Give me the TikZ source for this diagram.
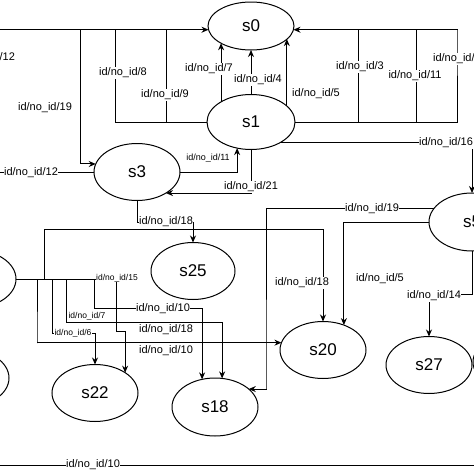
\documentclass[tikz,border=0pt]{standalone}
\usepackage{fontspec}
\setmainfont{Liberation Sans}
\usetikzlibrary{shapes.geometric,arrows.meta}

\begin{document}
\begin{tikzpicture}[x=1pt,y=-1pt,line width=1pt,>={Stealth[length=7pt,width=6pt]},
  state/.style={draw,ellipse,minimum width=86pt,minimum height=57pt,inner sep=0pt,outer sep=0pt,font=\fontsize{17}{20}\selectfont},
  lbl/.style={fill=white,inner sep=0.5pt,font=\fontsize{11}{13}\selectfont},
  txt/.style={inner sep=0.5pt,font=\fontsize{11}{13}\selectfont},
  slbl/.style={fill=white,inner sep=0.5pt,font=\fontsize{8.5}{10}\selectfont}]
  \useasboundingbox (0,0) rectangle (474,474);
  \clip (0,0) rectangle (474,474);

  \node (s0)[state,minimum height=48pt] at (251,26) { s0 };
  \node (s1)[state,minimum width=88pt,minimum height=55pt] at (251,122) { s1 };
  \node (s3)[state] at (137,172) { s3 };
  \node (s25)[state,minimum width=84pt] at (193,271) { s25 };
  \node (s5)[state,minimum height=58pt] at (472,222) { s5 };
  \node (s20)[state] at (323,350) { s20 };
  \node (s27)[state] at (429,365) { s27 };
  \node (s22)[state] at (95,393) { s22 };
  \node (s18)[state,minimum height=58pt] at (215,407) { s18 };
  \node (L1)[state,minimum height=58pt] at (-27,279) {};
  \node (L2)[state,minimum height=58pt] at (-34,378) {};
  \node (R1)[state] at (516,362) {};

  % edges into s0
  \draw[->] (-5,30) |- (s0.185);
  \draw[->] (80,30) |- (s3.169);
  \draw (s1.west) -| (115,30);
  \draw (s1.west) -| (166,30);
  \draw[->] (s1.146) -- (s1.146 |- s0.210);
  \draw[->] (s1.north) -- (s0.south);
  \draw[->] (s1.24) -- (s1.24 |- s0.340);
  \draw (s1.east) -| (358,30);
  \draw (s1.east) -| (416,30);
  \draw[->] (s1.east) -| (457,30) |- (s0.355);

  % s1, s3, s25
  \draw[->] (s1.324) -| (s5.north);
  \draw[->] (s3.east) -| (s1.242);
  \draw[->] (s1.south) |- (s3.324);
  \draw (-5,172) -- (s3.west);
  \draw[->] (s3.south) -- (137,222) -| (s25.north);

  % s5
  \draw[->] (s5.161) -| (266,389) |- (s18.28);
  \draw[->] (s5.west) -| (s20.50);
  \draw[->] (s5.south) -- ++(0,43) -| (s27.north);

  % left node
  \draw[->] (L1.east) -| (44,229) -| (s20.north);
  \draw[->] (L1.east) -| (37,343) |- (s20.170);
  \draw[->] (L1.east) -| (52,333) -| (s22.north);
  \draw[->] (L1.east) -| (66,322) -| (s18.76);
  \draw[->] (L1.east) -| (94,308) -| (s18.115);
  \draw[->] (L1.east) -| (116,331) -| (s22.34);

  \draw (-5,465) -- (480,465);

  % labels
  \node (t12a)[txt] at (-12,58) {id/no\_id/12};
  \node (t19a)[txt] at (45,108) {id/no\_id/19};
  \node (t8)[lbl] at (123,73) {id/no\_id/8};
  \node (t9)[lbl] at (165,95) {id/no\_id/9};
  \node (t7a)[lbl] at (209,69) {id/no\_id/7};
  \node (t4)[lbl] at (258,80) {id/no\_id/4};
  \node (t5a)[txt] at (316,94) {id/no\_id/5};
  \node (t3)[lbl] at (360,67) {id/no\_id/3};
  \node (t11a)[lbl] at (415,76) {id/no\_id/11};
  \node (t13)[lbl] at (460,59) {id/no\_id/13};
  \node (t16)[lbl] at (446,143) {id/no\_id/16};
  \node (t12b)[lbl] at (31,173) {id/no\_id/12};
  \node (t11b)[slbl,fill=none,font=\fontsize{9}{10}\selectfont] at (208,158) {id/no\_id/11};
  \node (t21)[lbl] at (251,187) {id/no\_id/21};
  \node (t18a)[lbl] at (166,222) {id/no\_id/18};
  \node (t19b)[lbl] at (372,209) {id/no\_id/19};
  \node (t18b)[lbl] at (302,283) {id/no\_id/18};
  \node (t5b)[txt] at (380,279) {id/no\_id/5};
  \node (t14)[lbl] at (434,296) {id/no\_id/14};
  \node (t15)[slbl] at (117,278) {id/no\_id/15};
  \node (t10a)[lbl] at (163,309) {id/no\_id/10};
  \node (t7b)[slbl,fill=none] at (87,316) {id/no\_id/7};
  \node (t18c)[txt] at (166,330) {id/no\_id/18};
  \node (t6)[slbl] at (73,333) {id/no\_id/6};
  \node (t10b)[txt] at (166,351) {id/no\_id/10};
  \node (t10c)[lbl] at (93,465) {id/no\_id/10};
\end{tikzpicture}
\end{document}
